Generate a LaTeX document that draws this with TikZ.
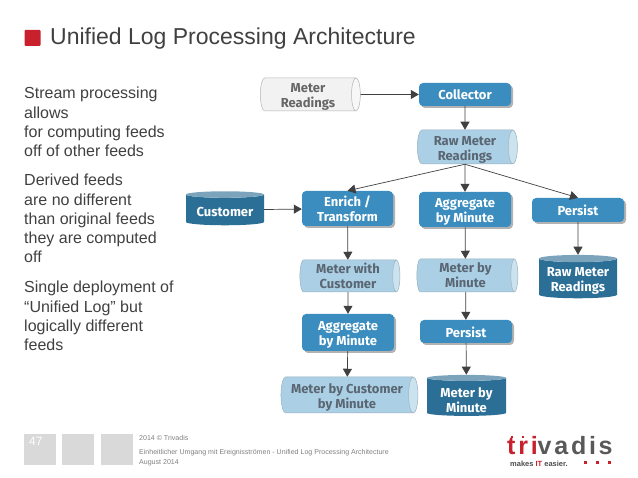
\documentclass[tikz,border=0pt]{standalone}
\usepackage{fontspec}
\setmainfont{Liberation Sans}
\newfontfamily\boxfont{Fira Sans}
\usetikzlibrary{shapes.geometric, arrows.meta, shadows, backgrounds}

\definecolor{procblue}{HTML}{3A8DBE}
\definecolor{feedblue}{HTML}{ABD0E6}
\definecolor{feedcap}{HTML}{CBE2EF}
\definecolor{storeblue}{HTML}{2C6F96}
\definecolor{storetop}{HTML}{7BA4BC}
\definecolor{feedtext}{HTML}{5A6672}
\definecolor{trired}{HTML}{C8202C}
\definecolor{bodytext}{HTML}{404040}

% pushes a node's text down by the given number of points
\newcommand{\txtdown}[1]{\rule{0pt}{\dimexpr 9.5pt+#1pt+#1pt\relax}}

\begin{document}
\begin{tikzpicture}[
    x=1pt, y=-1pt,
    % Node styles
    procbox/.style={
        rectangle,
        rounded corners=4pt,
        fill=procblue,
        text=white,
        inner sep=0pt,
        drop shadow={shadow xshift=2pt, shadow yshift=-2pt, fill=black, opacity=0.3},
        font=\boxfont\fontsize{13}{15}\selectfont\bfseries,
        align=center
    },
    feedbox/.style={
        cylinder,
        shape aspect=0.28,
        cylinder uses custom fill,
        cylinder body fill=feedblue,
        cylinder end fill=feedcap,
        draw=feedblue!60!gray,
        line width=0.5pt,
        text=feedtext,
        inner sep=0pt,
        font=\boxfont\fontsize{13}{15}\selectfont\bfseries,
        align=center
    },
    sourcebox/.style={
        feedbox,
        cylinder body fill=black!5,
        cylinder end fill=black!3,
        draw=black!30,
        text=black!60
    },
    storebox/.style={
        cylinder,
        shape border rotate=90,
        shape aspect=0.115,
        cylinder uses custom fill,
        cylinder body fill=storeblue,
        cylinder end fill=storetop,
        text=white,
        inner sep=0pt,
        font=\boxfont\fontsize{13}{15}\selectfont\bfseries,
        align=center
    },
    sidetext/.style={
        anchor=north west,
        inner sep=0pt,
        text=bodytext,
        align=left,
        font=\fontsize{16}{19.3}\selectfont
    },
    footbox/.style={
        rectangle,
        fill=black!15,
        minimum width=32pt,
        minimum height=31pt,
        inner sep=0pt
    },
    foottext/.style={
        anchor=west,
        inner sep=0pt,
        text=black!50,
        font=\fontsize{7.05}{8}\selectfont
    },
    logodot/.style={
        rectangle,
        fill=trired,
        minimum size=3pt,
        inner sep=0pt
    },
    arrow/.style={
        -{Triangle[length=8pt, width=9pt]},
        line width=0.7pt,
        black!75
    }
]
\useasboundingbox (0,0) rectangle (638,478);

% === Title ===
\node[rectangle, fill=trired, rounded corners=1pt, minimum size=16pt, inner sep=0pt] (bullet) at (32.5,38) {};
\node[anchor=west, inner sep=0pt, text=bodytext, font=\fontsize{23}{26}\selectfont] (title) at (50,39) {Unified Log Processing Architecture};

% === Side text ===
\node[sidetext] (para1) at (24,87) {Stream processing\\allows\\for computing feeds\\off of other feeds};
\node[sidetext] (para2) at (24,174) {Derived feeds\\are no different\\than original feeds\\they are computed\\off};
\node[sidetext] (para3) at (24,281) {Single deployment of\\“Unified Log” but\\logically different\\feeds};

% === Top ===
\node[sourcebox, minimum width=33pt, minimum height=100pt] (readings) at (308,94.5) {\txtdown{2}Meter\\Readings};
\node[procbox, minimum width=92pt, minimum height=23pt] (collector) at (465,94.5) {Collector};
\node[feedbox, minimum width=34pt, minimum height=100pt] (raw) at (465,147) {\txtdown{2.5}Raw Meter\\Readings};

% === Left column ===
\node[storebox, minimum width=78pt, minimum height=34pt] (customer) at (225,210) {\txtdown{1.5}Customer};
\node[procbox, minimum width=91pt, minimum height=35pt] (enrich) at (347.5,208.5) {\txtdown{1}Enrich /\\Transform};
\node[feedbox, minimum width=32pt, minimum height=100pt] (withcust) at (348,276) {Meter with\\Customer};
\node[procbox, minimum width=92pt, minimum height=37pt] (aggcust) at (348,332.5) {\txtdown{2.5}Aggregate\\by Minute};
\node[feedbox, minimum width=36pt, minimum height=137pt] (bycust) at (347,395) {\txtdown{3}Meter by Customer\\by Minute};

% === Middle column ===
\node[procbox, minimum width=92pt, minimum height=35pt] (aggmin) at (465,209.5) {\txtdown{2}Aggregate\\by Minute};
\node[feedbox, minimum width=33pt, minimum height=101pt] (bymin) at (465.5,275.5) {Meter by\\Minute};
\node[procbox, minimum width=92pt, minimum height=23pt] (persistmin) at (466,331.5) {\txtdown{1}Persist};
\node[storebox, minimum width=79pt, minimum height=41pt] (storemin) at (466.5,397) {\txtdown{3}Meter by\\Minute};

% === Right column ===
\node[procbox, minimum width=92pt, minimum height=24pt] (persistraw) at (578,210) {\txtdown{1}Persist};
\node[storebox, minimum width=78pt, minimum height=41pt] (storeraw) at (578,278.5) {\txtdown{2.5}Raw Meter\\Readings};

% === Feed shadows ===
\begin{scope}[on background layer]
\foreach \feed in {readings, raw, withcust, bymin, bycust}
    \fill[black!15] ([xshift=3pt, yshift=3pt]\feed.south east) ellipse (8pt and 2.5pt);
\end{scope}

% === Arrows ===
\draw[arrow] (readings) -- (collector);
\draw[arrow] (collector) -- (raw);
\draw[arrow] (raw.south) -- (enrich.north);
\draw[arrow] (raw.south) -- (aggmin.north);
\draw[arrow] (raw.south) -- (persistraw.north);
\draw[arrow] (customer) -- (enrich);
\draw[arrow] (enrich) -- (withcust);
\draw[arrow] (withcust) -- (aggcust);
\draw[arrow] (aggcust) -- (bycust);
\draw[arrow] (aggmin) -- (bymin);
\draw[arrow] (bymin) -- (persistmin);
\draw[arrow] (persistmin) -- (storemin);
\draw[arrow] (persistraw) -- (storeraw);

% === Footer ===
\node[footbox] (page) at (40,450) {};
\node[anchor=north west, inner sep=0pt, text=white, font=\fontsize{12}{13}\selectfont] (pagenum) at (29,437) {47};
\node[footbox] (foot2) at (78,450) {};
\node[footbox] (foot3) at (117,450) {};
\node[foottext] (footyear) at (139,438) {2014 © Trivadis};
\node[foottext] (foottitle) at (139,453) {Einheitlicher Umgang mit Ereignisströmen - Unified Log Processing Architecture};
\node[foottext] (footdate) at (139,463) {August 2014};

% === Logo ===
\node[anchor=base west, inner sep=0pt, text=black!65, font=\fontsize{25}{26}\selectfont\bfseries\addfontfeature{LetterSpace=11}] (logo) at (507,455) {\textcolor{trired}{tri}vadis};
\node[logodot, minimum size=2.5pt] (ldot1) at (512,437) {};
\node[logodot, minimum size=2.5pt] (ldot2) at (523,437) {};
\node[logodot, minimum size=2.5pt] (ldot3) at (535,437) {};
\node[anchor=west, inner sep=0pt, text=black!70, font=\fontsize{7.5}{8}\selectfont\bfseries] (claim) at (510,463.5) {makes \textcolor{trired}{IT} easier.};
\node[logodot] (dot1) at (585,463) {};
\node[logodot] (dot2) at (597,463) {};
\node[logodot] (dot3) at (609,463) {};

\end{tikzpicture}
\end{document}
